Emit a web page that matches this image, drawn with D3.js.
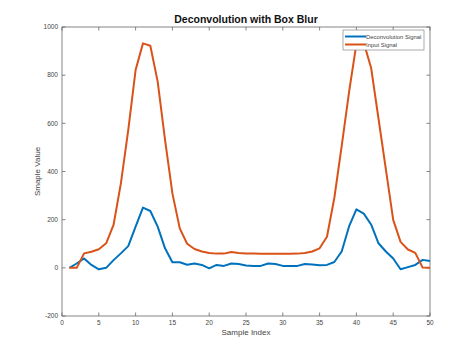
<!DOCTYPE html>
<html><head><meta charset="utf-8">
<script src="https://cdn.jsdelivr.net/npm/d3@7"></script>
<style>body{margin:0;background:#fff}svg{display:block}text{font-family:"Liberation Sans",Arial,sans-serif}</style>
</head><body>
<svg id="c" width="474" height="355"></svg>
<script>
const sampleIndex = d3.range(1, 51);
const inputSignal = [0,0,60,67,77,102,178,351,572,821,932,922,773,531,309,164,100,78,68,62,59,59,66,62,60,59,58,58,58,58,58,59,62,68,81,129,290,505,730,930,935,830,620,410,199,108,76,62,1,0];
const deconvSignal = [0,18,39,12,-6,0,32,60,90,171,250,236,171,81,23,23,13,18,12,-2,12,8,18,16,10,8,8,18,16,8,8,8,16,14,11,12,24,68,172,243,225,180,102,68,39,-6,3,12,33,28];
const xTicks = d3.range(0, 51, 5);
const yTicks = d3.range(-200, 1001, 200);
const seriesNames = ["Deconvolution Signal", "Input Signal"];
const colors = ["#0072BD", "#D95319"];

const svg = d3.select("#c");
const L = 62, R = 430, T = 27, B = 316;
const x = d3.scaleLinear().domain([0, 50]).range([L, R]);
const y = d3.scaleLinear().domain([-200, 1000]).range([B, T]);
const axCol = "#666";

svg.append("rect").attr("x", L).attr("y", T).attr("width", R - L).attr("height", B - T)
  .attr("fill", "#fff").attr("stroke", axCol).attr("stroke-width", 0.8);

const tk = 3.5;
const g = svg.append("g").attr("stroke", axCol).attr("stroke-width", 0.8);
xTicks.forEach(v => {
  g.append("line").attr("x1", x(v)).attr("x2", x(v)).attr("y1", B).attr("y2", B - tk);
  g.append("line").attr("x1", x(v)).attr("x2", x(v)).attr("y1", T).attr("y2", T + tk);
});
yTicks.forEach(v => {
  g.append("line").attr("x1", L).attr("x2", L + tk).attr("y1", y(v)).attr("y2", y(v));
  g.append("line").attr("x1", R).attr("x2", R - tk).attr("y1", y(v)).attr("y2", y(v));
});
svg.selectAll(".xt").data(xTicks).join("text").attr("x", d => x(d)).attr("y", B + 9)
  .attr("text-anchor", "middle").attr("font-size", 6.5).attr("fill", "#444").text(d => d);
svg.selectAll(".yt").data(yTicks).join("text").attr("x", L - 4).attr("y", d => y(d) + 2.3)
  .attr("text-anchor", "end").attr("font-size", 6.5).attr("fill", "#444").text(d => d);

svg.append("text").attr("x", (L + R) / 2).attr("y", 335).attr("text-anchor", "middle")
  .attr("font-size", 8).attr("fill", "#444").text("Sample Index");
svg.append("text").attr("transform", `translate(40,${(T + B) / 2}) rotate(-90)`)
  .attr("text-anchor", "middle").attr("font-size", 8).attr("fill", "#444").text("Smaple Value");
svg.append("text").attr("x", (L + R) / 2).attr("y", 23).attr("text-anchor", "middle")
  .attr("font-size", 10.5).attr("font-weight", "bold").attr("fill", "#111").text("Deconvolution with Box Blur");

const line = d3.line().x((d, i) => x(sampleIndex[i])).y(d => y(d));
[deconvSignal, inputSignal].forEach((s, k) => {
  svg.append("path").datum(s).attr("d", line).attr("fill", "none")
    .attr("stroke", colors[k]).attr("stroke-width", 2).attr("stroke-linejoin", "round");
});

const lg = svg.append("g");
lg.append("rect").attr("x", 343).attr("y", 30).attr("width", 81).attr("height", 20)
  .attr("fill", "#fff").attr("stroke", "#888").attr("stroke-width", 0.7);
seriesNames.forEach((n, i) => {
  const yy = 36.5 + i * 8;
  lg.append("line").attr("x1", 345).attr("x2", 366).attr("y1", yy).attr("y2", yy)
    .attr("stroke", colors[i]).attr("stroke-width", 2);
  lg.append("text").attr("x", 366).attr("y", yy + 2.1).attr("font-size", 5.9).attr("fill", "#444").text(n);
});
</script>
</body></html>
